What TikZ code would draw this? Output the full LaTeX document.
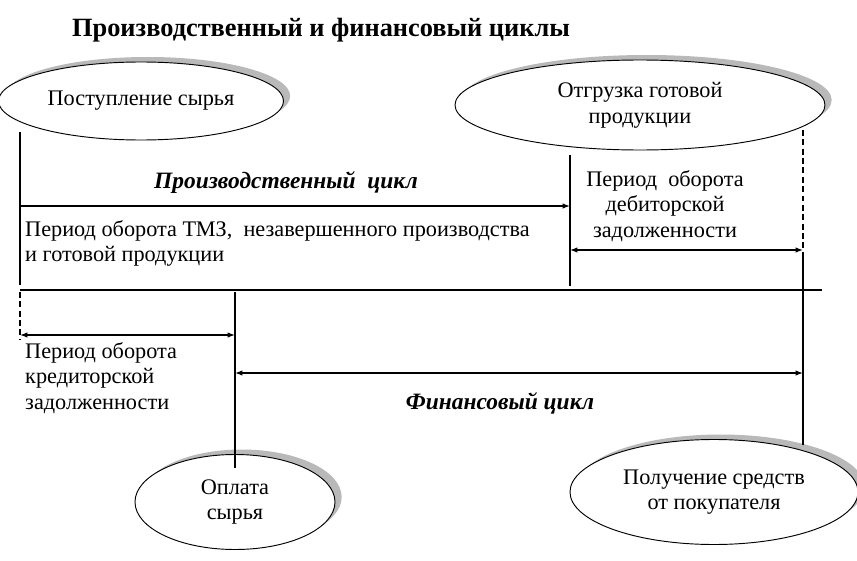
\documentclass[tikz,border=0pt]{standalone}
\usepackage{fontspec}
\setmainfont{Liberation Serif}
\usetikzlibrary{shapes.geometric,shadows,arrows.meta}
\tikzset{
  oval/.style={ellipse, draw, thick, fill=white, inner sep=0pt, font=\fontsize{19}{22}\selectfont, align=center,
    drop shadow={shadow xshift=0.2cm, shadow yshift=0.15cm, fill=gray!55, opacity=1}},
  txt/.style={font=\fontsize{19}{22}\selectfont, align=left, inner sep=0},
  cyc/.style={font=\fontsize{20}{22}\selectfont\bfseries\itshape, inner sep=0},
  ln/.style={line width=1.2pt},
  dln/.style={line width=0.9pt, dash pattern=on 5pt off 3pt},
  dbl/.style={line width=1.2pt, {Latex[length=2.2mm]}-{Latex[length=2.2mm]}}
}
\begin{document}
\begin{tikzpicture}[x=0.03cm, y=-0.03cm]
		\useasboundingbox (0,0) rectangle (857,561);
		
		\node[font=\fontsize{22.5}{25}\selectfont\bfseries, anchor=west] (title) at (68,30) {Производственный и финансовый циклы};
		
		\node[oval, minimum width=8.55cm, minimum height=2.34cm] (raw) at (141,101) {Поступление сырья};
		\node[oval, minimum width=11.1cm, minimum height=2.7cm] (ship) at (640,105) {Отгрузка готовой\\продукции};
		\node[oval, minimum width=6cm, minimum height=2.85cm] (pay) at (235,502) {Оплата\\сырья};
		\node[oval, minimum width=8.64cm, minimum height=3.15cm] (recv) at (714,492) {Получение средств\\от покупателя};
		
		\coordinate (a1) at (20,132);
		\coordinate (a2) at (20,285);
		\coordinate (a3) at (20,292);
		\coordinate (a4) at (20,340);
		\coordinate (b1) at (570,155);
		\coordinate (b2) at (570,286);
		\coordinate (c1) at (803,130);
		\coordinate (c2) at (803,258);
		\coordinate (c3) at (803,445);
		\coordinate (d1) at (235,292);
		\coordinate (d2) at (235,468);
		\coordinate (h1) at (20,290);
		\coordinate (h2) at (822,290);
		
		\draw[ln] (a1) -- (a2);
		\draw[dln] (a3) -- (a4);
		\draw[ln] (b1) -- (b2);
		\draw[dln] (c1) -- (c2);
		\draw[ln] (c2) -- (c3);
		\draw[ln] (d1) -- (d2);
		\draw[ln] (h1) -- (h2);
		
		\draw[ln, -{Latex[length=2.2mm]}] (20,206) -- (570,206);
		\draw[dbl] (570,250) -- (803,250);
		\draw[dbl] (20,335) -- (235,335);
		\draw[dbl] (235,373) -- (803,373);
		
		\node[cyc] (prod) at (286,183) {Производственный\ \ цикл};
		\node[cyc] (fin) at (500,403) {Финансовый цикл};
		\node[txt, anchor=north west] (tmz) at (25,220) {Период оборота ТМЗ,\ \ незавершенного производства\\и готовой продукции};
		\node[txt, align=center, anchor=north] (deb) at (665,170) {Период\ \ оборота\\дебиторской\\задолженности};
		\node[txt, anchor=north west] (cred) at (25,342) {Период оборота\\кредиторской\\задолженности};
\end{tikzpicture}
\end{document}
